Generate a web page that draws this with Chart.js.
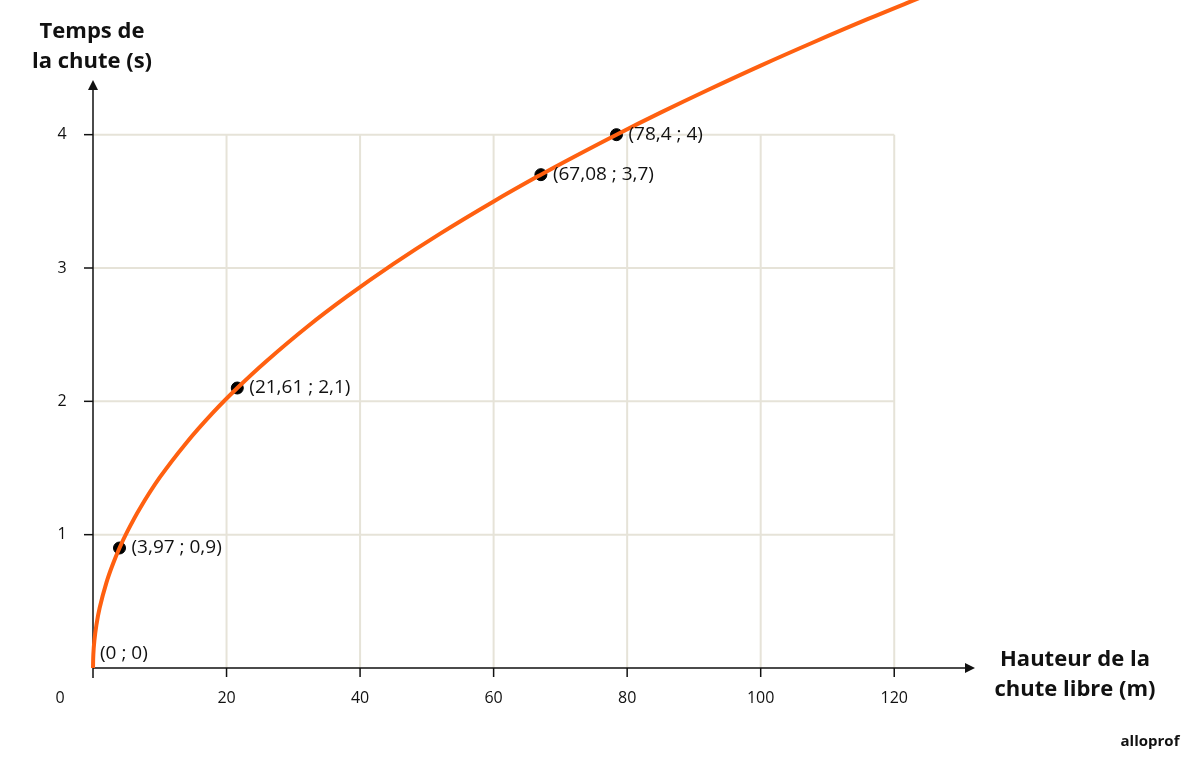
<!DOCTYPE html>
<html><head><meta charset="utf-8">
<script src="https://cdn.jsdelivr.net/npm/chart.js@4/dist/chart.umd.min.js"></script>
<style>html,body{margin:0;background:#fff}#w{width:1200px;height:771px}</style>
</head><body><div id="w"><canvas id="c"></canvas></div>
<script>
const curveH = [0,0.05,0.2,0.5,1,2,3,3.97,5,7,10,14,18,21.61,26,32,38,45,52,60,67.08,72,78.4,85,92,100,108,116,124,128];
const curveT = [0,0.101,0.202,0.319,0.452,0.639,0.782,0.9,1.01,1.195,1.429,1.69,1.917,2.1,2.303,2.556,2.785,3.031,3.258,3.499,3.7,3.833,4,4.165,4.333,4.518,4.695,4.866,5.03,5.111];
const ptH = [0,3.97,21.61,67.08,78.4];
const ptT = [0,0.9,2.1,3.7,4];
const ptLabels = ['(0 ; 0)','(3,97 ; 0,9)','(21,61 ; 2,1)','(67,08 ; 3,7)','(78,4 ; 4)'];
const xTicks = [0,20,40,60,80,100,120];
const yTicks = [1,2,3,4];
const FONT = '"Open Sans", sans-serif';
const deco = {
  id:'deco',
  beforeDatasetsDraw(ch){
    const c=ch.ctx,x=ch.scales.x,y=ch.scales.y;
    const x0=x.getPixelForValue(0),y0=y.getPixelForValue(0),xg=x.getPixelForValue(120),yg=y.getPixelForValue(4);
    c.save();c.strokeStyle='#e6e3d8';c.lineWidth=2;
    xTicks.slice(1).forEach(v=>{const p=x.getPixelForValue(v);c.beginPath();c.moveTo(p,y0);c.lineTo(p,yg);c.stroke();});
    yTicks.forEach(v=>{const p=y.getPixelForValue(v);c.beginPath();c.moveTo(x0,p);c.lineTo(xg,p);c.stroke();});
    c.strokeStyle='#111';c.fillStyle='#111';c.lineWidth=1.5;
    const xe=x.right+6, yt=y.top;
    c.beginPath();c.moveTo(x0,y0);c.lineTo(xe,y0);c.moveTo(x0,y0+10);c.lineTo(x0,yt);c.stroke();
    c.beginPath();c.moveTo(xe+8,y0);c.lineTo(xe-2,y0-5);c.lineTo(xe-2,y0+5);c.fill();
    c.beginPath();c.moveTo(x0,yt-8);c.lineTo(x0-5,yt+2);c.lineTo(x0+5,yt+2);c.fill();
    c.font='16px '+FONT;c.textAlign='center';c.textBaseline='middle';
    xTicks.forEach(v=>{const p=x.getPixelForValue(v);if(v>0){c.beginPath();c.moveTo(p,y0);c.lineTo(p,y0+9);c.stroke();c.fillText(String(v),p,y0+30);}});
    c.fillText('0',60,y0+30);
    yTicks.forEach(v=>{const p=y.getPixelForValue(v);c.beginPath();c.moveTo(x0-9,p);c.lineTo(x0,p);c.stroke();c.fillText(String(v),62,p);});
    c.font='bold 22px '+FONT;
    c.fillText('Temps de',92,32);c.fillText('la chute (s)',92,62);
    c.fillText('Hauteur de la',1075,660);c.fillText('chute libre (m)',1075,690);
    c.font='bold 15px '+FONT;c.fillText('alloprof',1150,742);
    c.restore();
  },
  afterDatasetsDraw(ch){
    const c=ch.ctx,x=ch.scales.x,y=ch.scales.y;
    c.save();c.font='19px '+FONT;c.fillStyle='#111';c.textBaseline='middle';c.textAlign='left';
    ptH.forEach((h,i)=>{const px=x.getPixelForValue(h),py=y.getPixelForValue(ptT[i]);
      if(i===0)c.fillText(ptLabels[i],px+7,py-14);else c.fillText(ptLabels[i],px+12,py);});
    c.restore();
  }
};
new Chart(document.getElementById('c'),{
  type:'scatter',
  data:{datasets:[
    {data:curveH.map((h,i)=>({x:h,y:curveT[i]})),showLine:true,borderColor:'#ff6010',borderWidth:4,pointRadius:0,tension:0.4,clip:false},
    {data:ptH.slice(1).map((h,i)=>({x:h,y:ptT[i+1]})),pointRadius:6,backgroundColor:'#000',borderColor:'#000',clip:false}
  ]},
  options:{responsive:true,maintainAspectRatio:false,animation:false,
    layout:{padding:{left:93,top:88,right:239,bottom:103}},
    plugins:{legend:{display:false},tooltip:{enabled:false}},
    scales:{x:{type:'linear',min:0,max:130,display:false},y:{type:'linear',min:0,max:4.35,display:false}}},
  plugins:[deco]
});
</script></body></html>
